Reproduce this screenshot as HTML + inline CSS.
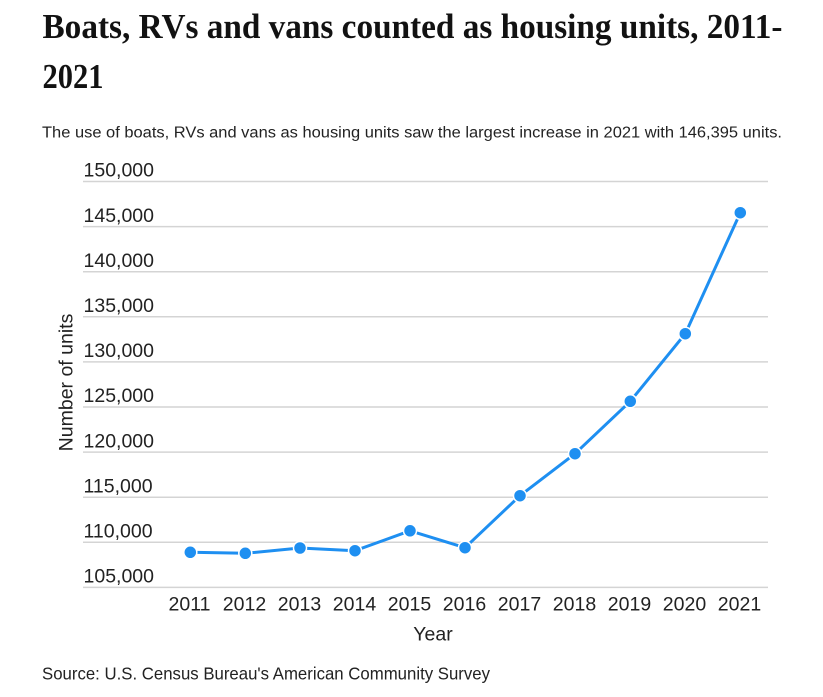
<!DOCTYPE html>
<html>
<head>
<meta charset="utf-8">
<style>
  html, body { margin: 0; padding: 0; background: #ffffff; }
  svg { display: block; }
</style>
</head>
<body>
<svg width="823" height="697" viewBox="0 0 823 697" xmlns="http://www.w3.org/2000/svg">
  <rect width="823" height="697" fill="#ffffff"/>
  <!-- Title -->
  <text x="42.5" y="38" font-family="Liberation Serif, serif" font-weight="bold" font-size="35" fill="#121212" textLength="740" lengthAdjust="spacingAndGlyphs">Boats, RVs and vans counted as housing units, 2011-</text>
  <text x="42.5" y="88" font-family="Liberation Serif, serif" font-weight="bold" font-size="35" fill="#121212" textLength="61" lengthAdjust="spacingAndGlyphs">2021</text>
  <!-- Subtitle -->
  <text x="42" y="137.5" font-family="Liberation Sans, sans-serif" font-size="15.5" fill="#222222" textLength="740" lengthAdjust="spacingAndGlyphs">The use of boats, RVs and vans as housing units saw the largest increase in 2021 with 146,395 units.</text>

  <!-- Gridlines -->
  <g stroke="#d4d4d4" stroke-width="1.5">
    <line x1="83" y1="181.5" x2="768" y2="181.5"/>
    <line x1="83" y1="226.6" x2="768" y2="226.6"/>
    <line x1="83" y1="271.7" x2="768" y2="271.7"/>
    <line x1="83" y1="316.8" x2="768" y2="316.8"/>
    <line x1="83" y1="361.9" x2="768" y2="361.9"/>
    <line x1="83" y1="407.0" x2="768" y2="407.0"/>
    <line x1="83" y1="452.1" x2="768" y2="452.1"/>
    <line x1="83" y1="497.2" x2="768" y2="497.2"/>
    <line x1="83" y1="542.3" x2="768" y2="542.3"/>
    <line x1="83" y1="587.4" x2="768" y2="587.4"/>
  </g>

  <!-- Y labels -->
  <g font-family="Liberation Sans, sans-serif" font-size="19.5" fill="#222222">
    <text x="83.5" y="176.7">150,000</text>
    <text x="83.5" y="221.8">145,000</text>
    <text x="83.5" y="266.9">140,000</text>
    <text x="83.5" y="312.0">135,000</text>
    <text x="83.5" y="357.1">130,000</text>
    <text x="83.5" y="402.2">125,000</text>
    <text x="83.5" y="447.3">120,000</text>
    <text x="83.5" y="492.4">115,000</text>
    <text x="83.5" y="537.5">110,000</text>
    <text x="83.5" y="582.6">105,000</text>
  </g>

  <!-- X labels -->
  <g font-family="Liberation Sans, sans-serif" font-size="19.5" fill="#222222" text-anchor="middle">
    <text x="189.5" y="610.5">2011</text>
    <text x="244.5" y="610.5">2012</text>
    <text x="299.5" y="610.5">2013</text>
    <text x="354.5" y="610.5">2014</text>
    <text x="409.5" y="610.5">2015</text>
    <text x="464.5" y="610.5">2016</text>
    <text x="519.5" y="610.5">2017</text>
    <text x="574.5" y="610.5">2018</text>
    <text x="629.5" y="610.5">2019</text>
    <text x="684.5" y="610.5">2020</text>
    <text x="739.5" y="610.5">2021</text>
  </g>

  <!-- Axis titles -->
  <text x="433" y="640.5" font-family="Liberation Sans, sans-serif" font-size="19.5" fill="#222222" text-anchor="middle">Year</text>
  <text transform="translate(72.5,382.5) rotate(-90)" x="0" y="0" font-family="Liberation Sans, sans-serif" font-size="19.5" fill="#222222" text-anchor="middle">Number of units</text>

  <!-- Series -->
  <polyline fill="none" stroke="#1e8ff1" stroke-width="3" stroke-linejoin="round" stroke-linecap="round"
    points="190.3,552.3 245.3,553.3 300,548 355,550.7 410,530.8 465,547.7 520,495.7 575,453.7 630.3,401.3 685.3,333.7 740.3,212.7"/>
  <g fill="#1e8ff1" stroke="#ffffff" stroke-width="1.5">
    <circle cx="190.3" cy="552.3" r="6.5"/>
    <circle cx="245.3" cy="553.3" r="6.5"/>
    <circle cx="300" cy="548" r="6.5"/>
    <circle cx="355" cy="550.7" r="6.5"/>
    <circle cx="410" cy="530.8" r="6.5"/>
    <circle cx="465" cy="547.7" r="6.5"/>
    <circle cx="520" cy="495.7" r="6.5"/>
    <circle cx="575" cy="453.7" r="6.5"/>
    <circle cx="630.3" cy="401.3" r="6.5"/>
    <circle cx="685.3" cy="333.7" r="6.5"/>
    <circle cx="740.3" cy="212.7" r="6.5"/>
  </g>

  <!-- Source -->
  <text x="42" y="679.3" font-family="Liberation Sans, sans-serif" font-size="17.5" fill="#222222" textLength="448" lengthAdjust="spacingAndGlyphs">Source: U.S. Census Bureau's American Community Survey</text>
</svg>
</body>
</html>
